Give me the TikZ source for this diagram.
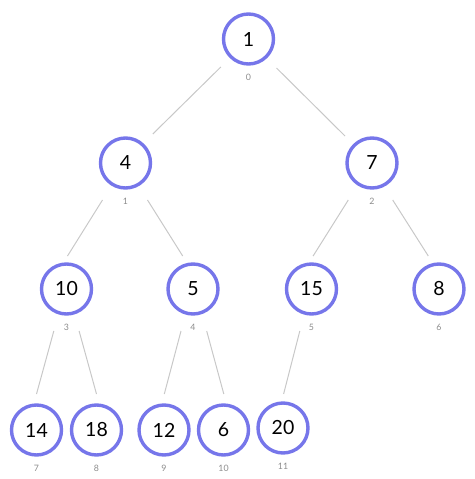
\documentclass[tikz,border=0pt]{standalone}
\usepackage{fontspec}
\setmainfont{Lato}
\usetikzlibrary{positioning}

\definecolor{heapblue}{RGB}{118,118,234}
\definecolor{edgegray}{RGB}{200,200,200}
\definecolor{idxgray}{RGB}{140,140,140}

\begin{document}
\begin{tikzpicture}[x=1pt, y=-1pt,
    heapnode/.style={circle, draw=heapblue, line width=3.4pt, minimum size=50pt,
      inner sep=0pt, font=\fontsize{19.5}{19.5}\selectfont},
    idx/.style={font=\fontsize{8.8}{8.8}\selectfont, text=idxgray, inner sep=0pt},
    edge/.style={draw=edgegray, line width=1pt}]
  \useasboundingbox (0,0) rectangle (474,479);

  % Heap nodes: index/x/y/value (array order)
  \foreach \i/\x/\y/\v in {
    0/248.5/39/1, 1/125.5/163/4, 2/372/163/7,
    3/66.5/289/10, 4/193/289/5, 5/311.5/289/15, 6/439/289/8,
    7/36.5/430/14, 8/96.5/430/18, 9/164/430/12, 10/223.5/430/6, 11/283/428/20%
  } {
    \node[heapnode] (n\i) at (\x,\y) {\v};
    \node[idx] (l\i) at (\x,\y+38.5) {\i};
  }

  % Parent -> child edges (offsets from the centres)
  \foreach \p/\c/\sx/\sy/\ex/\ey in {
    0/1/-27.7/28/27.3/-29, 0/2/28/29/-27/-27,
    1/3/-23/37/1/-33, 1/4/22/37/-10.3/-33,
    2/5/-23.7/37/1.6/-33, 2/6/20.7/37/-10.7/-33,
    3/7/-12.7/42/0/-36, 3/8/12.6/42/0/-36,
    4/9/-12/42/0.3/-36, 4/10/13.7/42/0.3/-36,
    5/11/-11.7/42/0.6/-34%
  } {
    \draw[edge] ([shift={(\sx,\sy)}]n\p.center) -- ([shift={(\ex,\ey)}]n\c.center);
  }
\end{tikzpicture}
\end{document}
